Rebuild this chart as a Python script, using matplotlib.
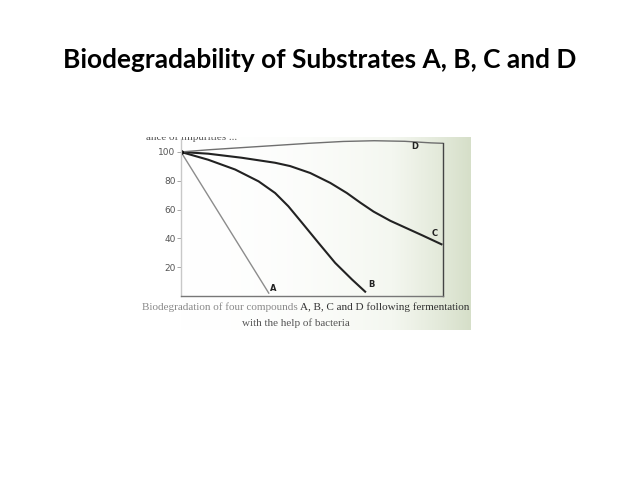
import numpy as np
import matplotlib
matplotlib.use("Agg")
import matplotlib.pyplot as plt
from matplotlib.colors import LinearSegmentedColormap

# values (x in arbitrary time units, y in % remaining)
a_x = [0, 3.45]
a_y = [100, 2]
b_x = [0, 1.07, 2.13, 3.05, 3.7, 4.22, 4.75, 5.4, 6.06, 6.72, 7.24]
b_y = [100, 94.6, 87.8, 79.6, 71.5, 62.3, 51, 37, 23, 11.5, 3]
c_x = [0, 1.07, 2.38, 3.7, 4.29, 5.08, 5.87, 6.52, 7.05, 7.57, 8.23, 8.89, 9.5, 9.84, 10.24]
c_y = [100, 98.8, 96, 92.5, 90.2, 85.4, 78.5, 71.5, 64.8, 58.6, 52.2, 46.9, 42, 39.2, 35.9]
d_x = [0, 1.07, 2.38, 3.7, 5.01, 6.38, 7.6, 8.8, 9.84, 10.3]
d_y = [100, 101.5, 103, 104.5, 106, 107.3, 107.8, 107.4, 106.3, 106]
y_ticks = [20, 40, 60, 80, 100]
curve_labels = {"A": (3.62, 4.9), "B": (7.48, 8.3), "C": (9.97, 43.5), "D": (9.2, 103.5)}

W, H = 638, 478
fig = plt.figure(figsize=(W / 100, H / 100), dpi=100)
fig.patch.set_facecolor("white")

fig.text(320 / W, 1 - 60 / H, "Biodegradability of Substrates A, B, C and D",
         ha="center", va="center", fontsize=18.9, fontweight="bold",
         family="Lato", color="black")

# scanned picture background: white fading into greenish grey at the right
bg = fig.add_axes([146 / W, 1 - 330 / H, (471 - 146) / W, (330 - 137) / H])
grad = np.linspace(0, 1, 256) ** 2.5
cmap = LinearSegmentedColormap.from_list("scan", ["#ffffff", "#f4f7f0", "#d6dfc9"])
bg.imshow(np.tile(grad, (10, 1)), aspect="auto", cmap=cmap, extent=[0, 1, 0, 1])
bg.set_xlim(0, 1)
bg.set_ylim(0, 1)
bg.axis("off")
bg.text(0.0, 1.0, "ance of impurities ...", transform=bg.transAxes,
        ha="left", va="center", fontsize=8, family="Liberation Serif",
        color="#555555", clip_on=True)
cap_y1 = (330 - 307) / (330 - 137)
cap_y2 = (330 - 323) / (330 - 137)
bg.text(0.475, cap_y1, "Biodegradation of four compounds ",
        transform=bg.transAxes, ha="right", va="center", fontsize=8,
        family="Liberation Serif", color="#8a8a8a")
bg.text(0.475, cap_y1, "A, B, C and D following fermentation",
        transform=bg.transAxes, ha="left", va="center", fontsize=8,
        family="Liberation Serif", color="#333333")
bg.text(0.46, cap_y2, "with the help of bacteria",
        transform=bg.transAxes, ha="center", va="center", fontsize=8,
        family="Liberation Serif", color="#555555")

ax = fig.add_axes([181 / W, 1 - 296 / H, (443 - 181) / W, (296 - 139) / H])
ax.patch.set_alpha(0)
ax.plot(a_x, a_y, color="#8c8c8c", lw=1.0)
ax.plot(b_x, b_y, color="#222222", lw=1.5)
ax.plot(c_x, c_y, color="#222222", lw=1.5)
ax.plot(d_x, d_y, color="#6f6f6f", lw=1.0)
ax.plot([0], [100], "o", color="black", ms=2.5)
for name, (lx, ly) in curve_labels.items():
    ax.text(lx, ly, name, fontsize=6, fontweight="bold", color="#222222",
            ha="center", va="center")

ax.set_xlim(0, 10.3)
ax.set_ylim(0, 109)
ax.set_xticks([])
ax.set_yticks(y_ticks)
ax.set_yticklabels([str(v) for v in y_ticks], fontsize=6.5, color="#555555")
ax.tick_params(axis="y", length=3, width=0.6, color="#999999", pad=1)
ax.spines["top"].set_visible(False)
ax.spines["left"].set_color("#c8c8c8")
ax.spines["bottom"].set_color("#777777")
ax.spines["right"].set_color("#444444")
for s in ["left", "bottom", "right"]:
    ax.spines[s].set_linewidth(1.0)
ax.spines["right"].set_bounds(0, 106)

fig.savefig("out.png", dpi=100)
